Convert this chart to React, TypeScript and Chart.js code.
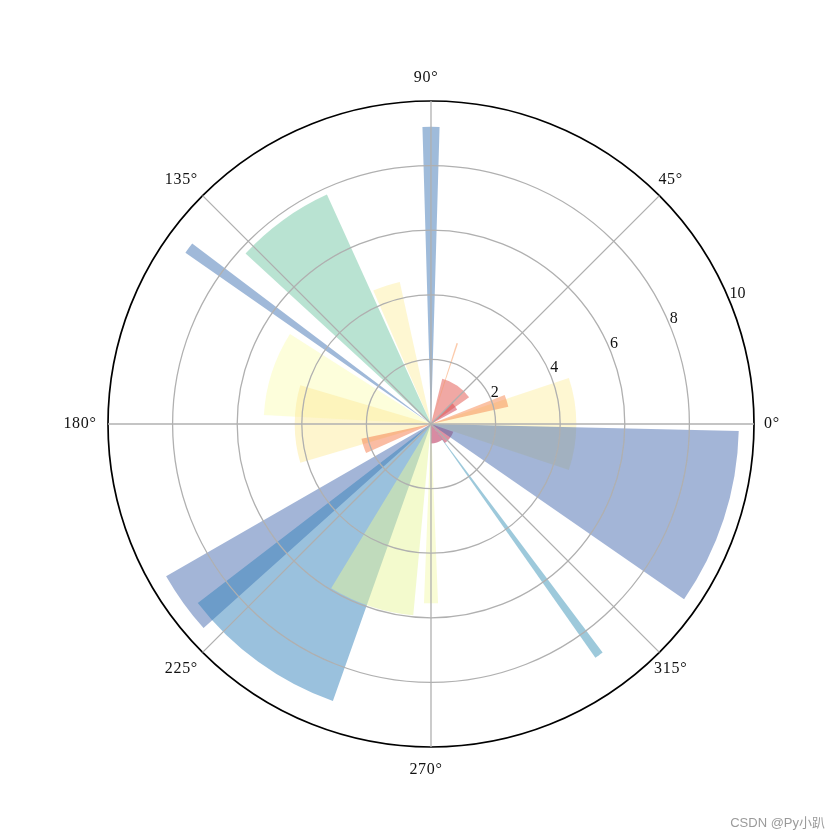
import React, { useEffect, useRef } from "react";
import { Chart, registerables } from "chart.js";

Chart.register(...registerables);

// Bars: math angle of the bar centre (deg, counter-clockwise from east), width (deg), radius
const barCentres = [0, 17, 37, 55.5, 72, 90, 107.9, 125.9, 144, 162.2, 180, 198, 215.9, 234, 251.7, 270, 288, 306, 323.5, 342];
const barWidths = [37, 9, 17, 41, 1.0, 3.3, 11, 23, 2.2, 29.5, 33, 12, 12, 33, 26, 4.5, 36, 1.8, 35, 33.4];
const barRadii = [4.5, 2.45, 0.92, 1.44, 2.63, 9.2, 4.5, 7.8, 9.27, 5.18, 4.22, 2.2, 9.46, 9.1, 5.95, 5.55, 0.6, 8.85, 0.73, 9.53];
const barColors = [
  "rgba(254,240,165,0.5)",
  "rgba(248,135,77,0.5)",
  "rgba(208,55,77,0.5)",
  "rgba(226,82,74,0.5)",
  "rgba(250,150,85,0.5)",
  "rgba(63,119,182,0.5)",
  "rgba(254,240,165,0.5)",
  "rgba(115,200,165,0.5)",
  "rgba(65,116,180,0.5)",
  "rgba(251,253,183,0.5)",
  "rgba(254,235,157,0.5)",
  "rgba(246,122,72,0.5)",
  "rgba(72,107,175,0.5)",
  "rgba(53,132,187,0.5)",
  "rgba(232,246,155,0.5)",
  "rgba(243,250,172,0.5)",
  "rgba(178,24,70,0.5)",
  "rgba(60,147,184,0.5)",
  "rgba(190,35,72,0.5)",
  "rgba(72,107,175,0.5)",
];

// Angular axis, clockwise on the canvas starting from east
const angleLabels = ["0°", "315°", "270°", "225°", "180°", "135°", "90°", "45°"];
const radialTicks = [2, 4, 6, 8, 10];
const watermark = "CSDN @Py小趴";

const SERIF = '16px "Liberation Serif", serif';

const textPlugin = {
  id: "polarText",
  afterDraw(chart: any) {
    const { ctx } = chart;
    const s = chart.scales.r;
    const R = s.getDistanceFromCenterForValue(10);
    ctx.save();
    ctx.font = SERIF;
    ctx.fillStyle = "#111";
    ctx.textAlign = "center";
    ctx.textBaseline = "middle";
    ctx.letterSpacing = "0.7px";
    angleLabels.forEach((label, i) => {
      const p = s.getPointPosition(i, R + 23);
      ctx.fillText(label, p.x - 5, p.y);
    });
    ctx.letterSpacing = "0px";
    ctx.textAlign = "left";
    ctx.textBaseline = "bottom";
    const a = (22.5 * Math.PI) / 180;
    radialTicks.forEach((t) => {
      const d = s.getDistanceFromCenterForValue(t);
      ctx.fillText(String(t), s.xCenter + d * Math.cos(a), s.yCenter - d * Math.sin(a) + 1.5);
    });
    ctx.font = '13px "Liberation Sans", "Noto Sans CJK SC", sans-serif';
    ctx.fillStyle = "rgba(120,120,120,0.75)";
    ctx.textAlign = "right";
    ctx.textBaseline = "alphabetic";
    ctx.fillText(watermark, 825, 827);
    ctx.restore();
  },
};

export default function App() {
  const ref = useRef<HTMLCanvasElement | null>(null);

  useEffect(() => {
    if (!ref.current) return;
    const datasets = barCentres
      .map((c, i) => {
        const start = ((-(c + barWidths[i] / 2) % 360) + 360) % 360;
        return {
          data: [0, barRadii[i]],
          angle: [start, barWidths[i]],
          backgroundColor: ["rgba(0,0,0,0)", barColors[i]],
          borderWidth: 0,
        };
      })
      .reverse();

    const chart = new Chart(ref.current, {
      type: "polarArea",
      data: { labels: angleLabels, datasets },
      options: {
        responsive: false,
        animation: false,
        events: [],
        layout: { padding: { left: 108, right: 86, top: 101, bottom: 93 } },
        plugins: { legend: { display: false }, tooltip: { enabled: false } },
        scales: {
          r: {
            min: 0,
            max: 10,
            startAngle: 90,
            ticks: { display: false, stepSize: 2 },
            pointLabels: { display: false },
            angleLines: { display: true, color: "#b0b0b0", lineWidth: 1.3 },
            grid: {
              circular: true,
              z: 1,
              color: (c: any) => (c.tick && c.tick.value === 10 ? "#000000" : "#b0b0b0"),
              lineWidth: (c: any) => (c.tick && c.tick.value === 10 ? 1.7 : 1.3),
            },
          },
        },
      } as any,
      plugins: [textPlugin],
    } as any);
    return () => chart.destroy();
  }, []);

  return (
    <div style={{ position: "absolute", left: 0, top: 0, width: 840, height: 840, background: "#fff" }}>
      <canvas ref={ref} width={840} height={840} style={{ display: "block" }} />
    </div>
  );
}
